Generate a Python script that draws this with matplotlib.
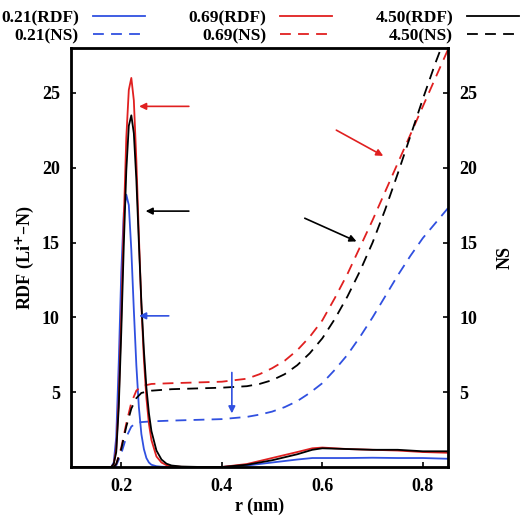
import matplotlib
matplotlib.use("Agg")
import matplotlib.pyplot as plt

plt.rcParams['font.family'] = ['Liberation Serif', 'DejaVu Serif']
plt.rcParams['font.weight'] = 'bold'

r_rdf = [0.10, 0.18, 0.185, 0.19, 0.195, 0.20, 0.205, 0.21, 0.215, 0.22, 0.225, 0.23, 0.235, 0.24, 0.245, 0.25, 0.255, 0.26, 0.27, 0.28, 0.29, 0.30, 0.32, 0.36, 0.40,
         0.45, 0.50, 0.55, 0.58, 0.60, 0.65, 0.70, 0.75, 0.80, 0.85]
rdf_021 = [0, 0, 0.3, 2.0, 7.0, 13.0, 17.0, 18.2, 17.5, 14.5, 10.5, 6.8, 4.0, 2.2, 1.2, 0.6, 0.3, 0.15, 0.05, 0.02, 0.01, 0, 0, 0, 0,
           0.1, 0.3, 0.5, 0.6, 0.6, 0.6, 0.62, 0.6, 0.6, 0.55]
rdf_069 = [0, 0, 0.2, 1.2, 4.5, 10.0, 16.5, 22.0, 25.2, 26.0, 24.5, 20.5, 15.5, 10.8, 7.2, 4.6, 2.9, 1.8, 0.7, 0.3, 0.12, 0.05, 0.01, 0, 0,
           0.2, 0.6, 1.0, 1.25, 1.3, 1.2, 1.15, 1.1, 1.0, 0.95]
rdf_450 = [0, 0, 0.2, 1.0, 4.0, 9.0, 14.8, 19.8, 22.8, 23.5, 22.3, 19.2, 15.0, 11.0, 7.8, 5.3, 3.6, 2.4, 1.1, 0.5, 0.22, 0.1, 0.03, 0, 0,
           0.15, 0.45, 0.85, 1.15, 1.25, 1.2, 1.15, 1.15, 1.05, 1.05]

r_ns = [0.185, 0.19, 0.20, 0.21, 0.22, 0.23, 0.24, 0.26, 0.30, 0.35, 0.40, 0.45, 0.475, 0.50, 0.525, 0.55, 0.575, 0.60, 0.625, 0.65, 0.675, 0.70, 0.725, 0.75, 0.775, 0.80, 0.825, 0.85]
ns_021 = [0, 0.1, 0.9, 2.0, 2.7, 2.95, 3.0, 3.05, 3.1, 3.15, 3.2, 3.35, 3.5, 3.7, 4.0, 4.4, 4.95, 5.6, 6.5, 7.5, 8.7, 10.0, 11.4, 12.8, 14.1, 15.3, 16.3, 17.3]
ns_069 = [0, 0.2, 1.3, 2.9, 4.3, 5.1, 5.4, 5.55, 5.6, 5.65, 5.7, 5.9, 6.2, 6.6, 7.1, 7.8, 8.7, 9.8, 11.3, 12.9, 14.7, 16.5, 18.4, 20.3, 22.2, 24.1, 26.0, 27.9]
ns_450 = [0, 0.2, 1.2, 2.7, 3.9, 4.6, 4.95, 5.1, 5.2, 5.25, 5.3, 5.4, 5.55, 5.8, 6.2, 6.8, 7.6, 8.6, 9.9, 11.4, 13.1, 15.0, 17.2, 19.6, 22.1, 24.6, 27.0, 29.2]

labels = ['0.21', '0.69', '4.50']
colors = ['#3050e0', '#e02020', 'black']

fig = plt.figure(figsize=(5.2, 5.22), dpi=100)
ax = fig.add_axes([71/520, 1-467/522, (448-71)/520, (467-48)/522])
rdfs = [rdf_021, rdf_069, rdf_450]
nss = [ns_021, ns_069, ns_450]
handles = []
for lab, c, rd, ns in zip(labels, colors, rdfs, nss):
    h1, = ax.plot(r_rdf, rd, color=c, lw=1.3, label=f'{lab}(RDF)')
    h2, = ax.plot(r_ns, ns, color=c, lw=1.3, ls=(0, (6, 4)), label=f'{lab}(NS)')
    handles += [h1, h2]

ax.set_xlim(0.1, 0.85)
ax.set_ylim(0, 28)
ax.set_xticks([0.2, 0.4, 0.6, 0.8])
ax.set_yticks([5, 10, 15, 20, 25])
ax.tick_params(direction='in', labelsize=13, width=1.2, top=False, pad=8)
for s in ax.spines.values():
    s.set_linewidth(2)
ax.set_xlabel('r (nm)', fontsize=13, fontweight='bold', labelpad=2)
ax.set_ylabel('RDF (Li$^{\\mathbf{+}}$\u2013N)', fontsize=13, fontweight='bold')
ax2 = ax.twinx()
ax2.set_ylim(0, 28)
ax2.set_yticks([5, 10, 15, 20, 25])
ax2.tick_params(direction='in', labelsize=13, width=1.2, pad=8)
ax2.set_ylabel('NS', fontsize=13, fontweight='bold', labelpad=14)

arr = dict(arrowstyle='-|>', lw=1.2, mutation_scale=10)
ax.annotate('', xy=(0.23, 24.1), xytext=(0.34, 24.1), arrowprops=dict(color='#e02020', **arr))
ax.annotate('', xy=(0.243, 17.1), xytext=(0.34, 17.1), arrowprops=dict(color='black', **arr))
ax.annotate('', xy=(0.23, 10.1), xytext=(0.30, 10.1), arrowprops=dict(color='#3050e0', **arr))
ax.annotate('', xy=(0.42, 3.4), xytext=(0.42, 6.5), arrowprops=dict(color='#3050e0', **arr))
ax.annotate('', xy=(0.726, 20.7), xytext=(0.623, 22.6), arrowprops=dict(color='#e02020', **arr))
ax.annotate('', xy=(0.673, 15.0), xytext=(0.56, 16.7), arrowprops=dict(color='black', **arr))

leg = fig.legend(handles=handles, ncol=3, loc='upper center', bbox_to_anchor=(0.5, 1.01),
                 frameon=False, markerfirst=False, fontsize=12.5, handlelength=3,
                 columnspacing=2.5, labelspacing=0.1, handletextpad=0.8)
fig.savefig('out.png', dpi=100)
